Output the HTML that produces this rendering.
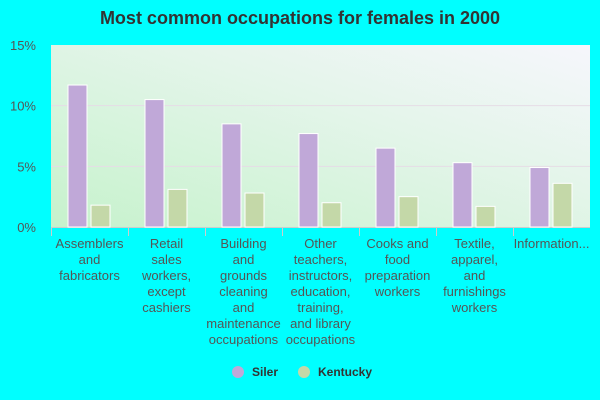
<!DOCTYPE html>
<html><head><meta charset="utf-8"><style>
body{margin:0;background:#00ffff;}
svg{display:block;font-family:"Liberation Sans",sans-serif;}
</style></head><body>
<svg id="chart" width="600" height="400">
<defs>
<linearGradient id="bg" x1="0" y1="1" x2="1" y2="0">
<stop offset="0" stop-color="#c6f2cc"/><stop offset="0.6" stop-color="#e4f5ea"/><stop offset="1" stop-color="#f6f6fc"/>
</linearGradient>
</defs>
<text x="300" y="24" text-anchor="middle" font-size="18" font-weight="bold" fill="#333">Most common occupations for females in 2000</text>
<rect x="51" y="45" width="539" height="182" fill="url(#bg)"/>
<g id="grid"></g><g id="bars"></g><g id="xlabels"></g>
<g>
<circle cx="238" cy="372" r="6" fill="#c0a8d8"/>
<text x="252" y="376" font-size="12" font-weight="bold" fill="#333">Siler</text>
<circle cx="304" cy="372" r="6" fill="#c4d8a8"/>
<text x="318" y="376" font-size="12" font-weight="bold" fill="#333">Kentucky</text>
</g>
</svg>
<script>
const categories=[["Assemblers","and","fabricators"],["Retail","sales","workers,","except","cashiers"],["Building","and","grounds","cleaning","and","maintenance","occupations"],["Other","teachers,","instructors,","education,","training,","and library","occupations"],["Cooks and","food","preparation","workers"],["Textile,","apparel,","and","furnishings","workers"],["Information..."]];
const siler=[11.7,10.5,8.5,7.7,6.5,5.3,4.9];
const kentucky=[1.8,3.1,2.8,2.0,2.5,1.7,3.6];
const ticks=[0,5,10,15];
const NS="http://www.w3.org/2000/svg";
const x0=51,w=539,y0=227,h=182,gw=w/categories.length;
const y=v=>y0-v/15*h;
function mk(t,a,p){const e=document.createElementNS(NS,t);for(const k in a)e.setAttribute(k,a[k]);p.appendChild(e);return e;}
const grid=document.getElementById('grid'),bars=document.getElementById('bars'),xl=document.getElementById('xlabels');
ticks.forEach(t=>{
 if(t>0&&t<15){const l=mk('line',{x1:x0,x2:x0+w,y1:y(t),y2:y(t),stroke:'#e6dce6'},grid);
 
 }
 const tx=mk('text',{x:36,y:y(t)+5,'text-anchor':'end','font-size':13,fill:'#555'},grid);tx.textContent=t+'%';
 
 
});
mk('line',{x1:x0,x2:x0+w,y1:y0+0.5,y2:y0+0.5,stroke:'#ccc'},grid);
categories.forEach((c,i)=>{
 const gx=x0+i*gw;
 const tk=mk('line',{x1:gx+0.5,x2:gx+0.5,y1:y0,y2:y0+9,stroke:'#ccc'},grid);
 
 
 const b1=mk('rect',{x:gx+17,y:y(siler[i]),width:19,height:y0-y(siler[i]),fill:'#c0a8d8',stroke:'#fff','stroke-width':1},bars);
 
 
 const b2=mk('rect',{x:gx+40,y:y(kentucky[i]),width:19,height:y0-y(kentucky[i]),fill:'#c4d8a8',stroke:'#fff','stroke-width':1},bars);
 
 
 const t=mk('text',{x:gx+gw/2,'text-anchor':'middle','font-size':13,fill:'#555'},xl);
 
 
 c.forEach((line,j)=>{const s=mk('tspan',{x:gx+gw/2,y:248+j*16},t);s.textContent=line;});
});
</script>
</body></html>
